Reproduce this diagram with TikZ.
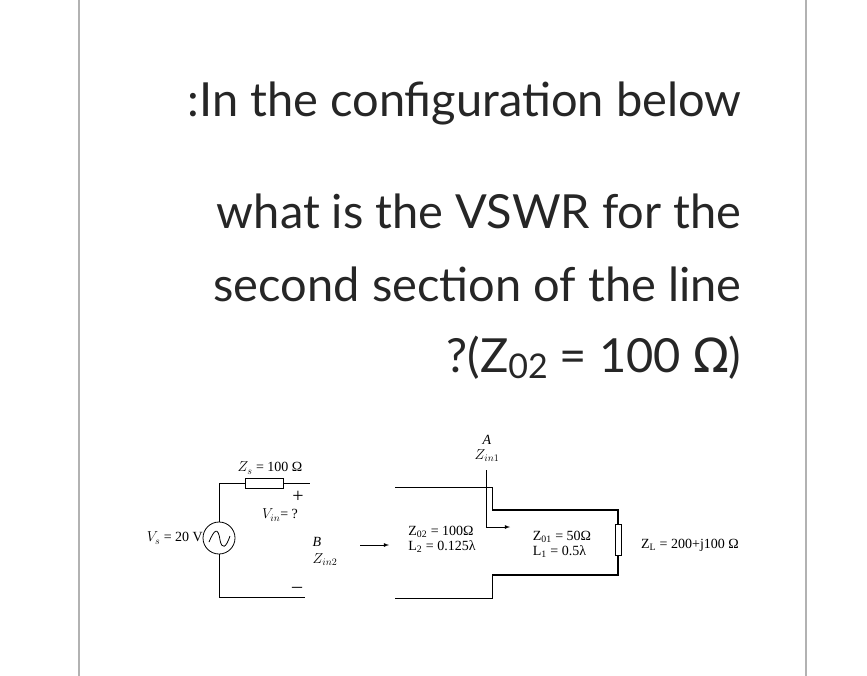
\documentclass[tikz,border=0pt]{standalone}
\usepackage{fontspec}
\setmainfont{Liberation Serif}
\newfontfamily\lato{Lato}
\begin{document}
\begin{tikzpicture}[x=1pt,y=-1pt,
 q/.style={font=\lato\fontsize{47}{47}\selectfont,anchor=east,text=black!85},
 s/.style={font=\fontsize{14}{15}\selectfont,inner sep=0pt},
 w/.style={line width=0.8pt},
 tk/.style={line width=2.2pt}]
\useasboundingbox (0,0) rectangle (867,676);
\draw[gray!60,line width=2pt] (79,0) -- (79,676) (806,0) -- (806,676);
\node[q] (t1) at (745,103) {:In the configuration below};
\node[q] (t2) at (745,211) {what is the VSWR for the};
\node[q] (t3) at (745,284) {second section of the line};
\node[q] (t4) at (745,358) {?(Z{\fontsize{34}{34}\selectfont\raisebox{-6pt}{02}}\ = 100 \fontspec{DejaVu Sans}Ω\lato)};
% source circuit
\node[draw,circle,minimum size=32pt,inner sep=0pt,w,fill=white] (src) at (219,538) {};
\draw[w] (src.north) -- (219,483) -- (245,483);
\draw[w] (src.south) -- (219,597) -- (305,597);
\node[draw,w,minimum width=38pt,minimum height=10pt,inner sep=0pt] (zs) at (264,483) {};
\draw[w] (zs.east) -- (310,483);
\draw[w] (209,542) .. controls (214,530) and (218,526) .. (220,540) .. controls (222,550) and (226,548) .. (230,536);
\node[s] (zsl) at (270,468) {$Z_s$ = 100 Ω};
\node[s,font=\fontsize{20}{20}\selectfont] (plus) at (298,497) {+};
\node[s] (vin) at (280,515) {$V_{in}$= ?};
\node[s,font=\fontsize{20}{20}\selectfont] (minus) at (297,590) {--};
\node[s,anchor=east] (vs) at (203,538) {$V_s$ = 20 V};
\node[s,align=left] (b) at (325,551) {\textit{B}\\[2pt]$Z_{in2}$};
\coordinate (a1) at (360,545);
\coordinate (a2) at (389,545);
\draw[w,-latex] (a1) -- (a2);
% line
\draw[w] (395,487) -- (492,487) -- (492,510);
\draw[w] (395,598) -- (492,598) -- (492,575);
\draw[tk] (492,510) -- (618,510) -- (618,525);
\draw[tk] (492,575) -- (618,575) -- (618,556);
\node[draw,w,fill=white,minimum width=6pt,minimum height=31pt,inner sep=0pt] (zl) at (618,540) {};
\draw[w,-latex] (486,470) -- (486,527) -- (510,527);
\node[s,align=center] (a) at (487,448) {\textit{A}\\[0pt]$Z_{in1}$};
\node[s,align=left] (z02) at (442,539) {Z\textsubscript{02} = 100Ω\\L\textsubscript{2} = 0.125λ};
\node[s,align=left] (z01) at (562,544) {Z\textsubscript{01} = 50Ω\\L\textsubscript{1} = 0.5λ};
\node[s] (zll) at (690,545) {Z\textsubscript{L} = 200+j100 Ω};
\end{tikzpicture}
\end{document}
